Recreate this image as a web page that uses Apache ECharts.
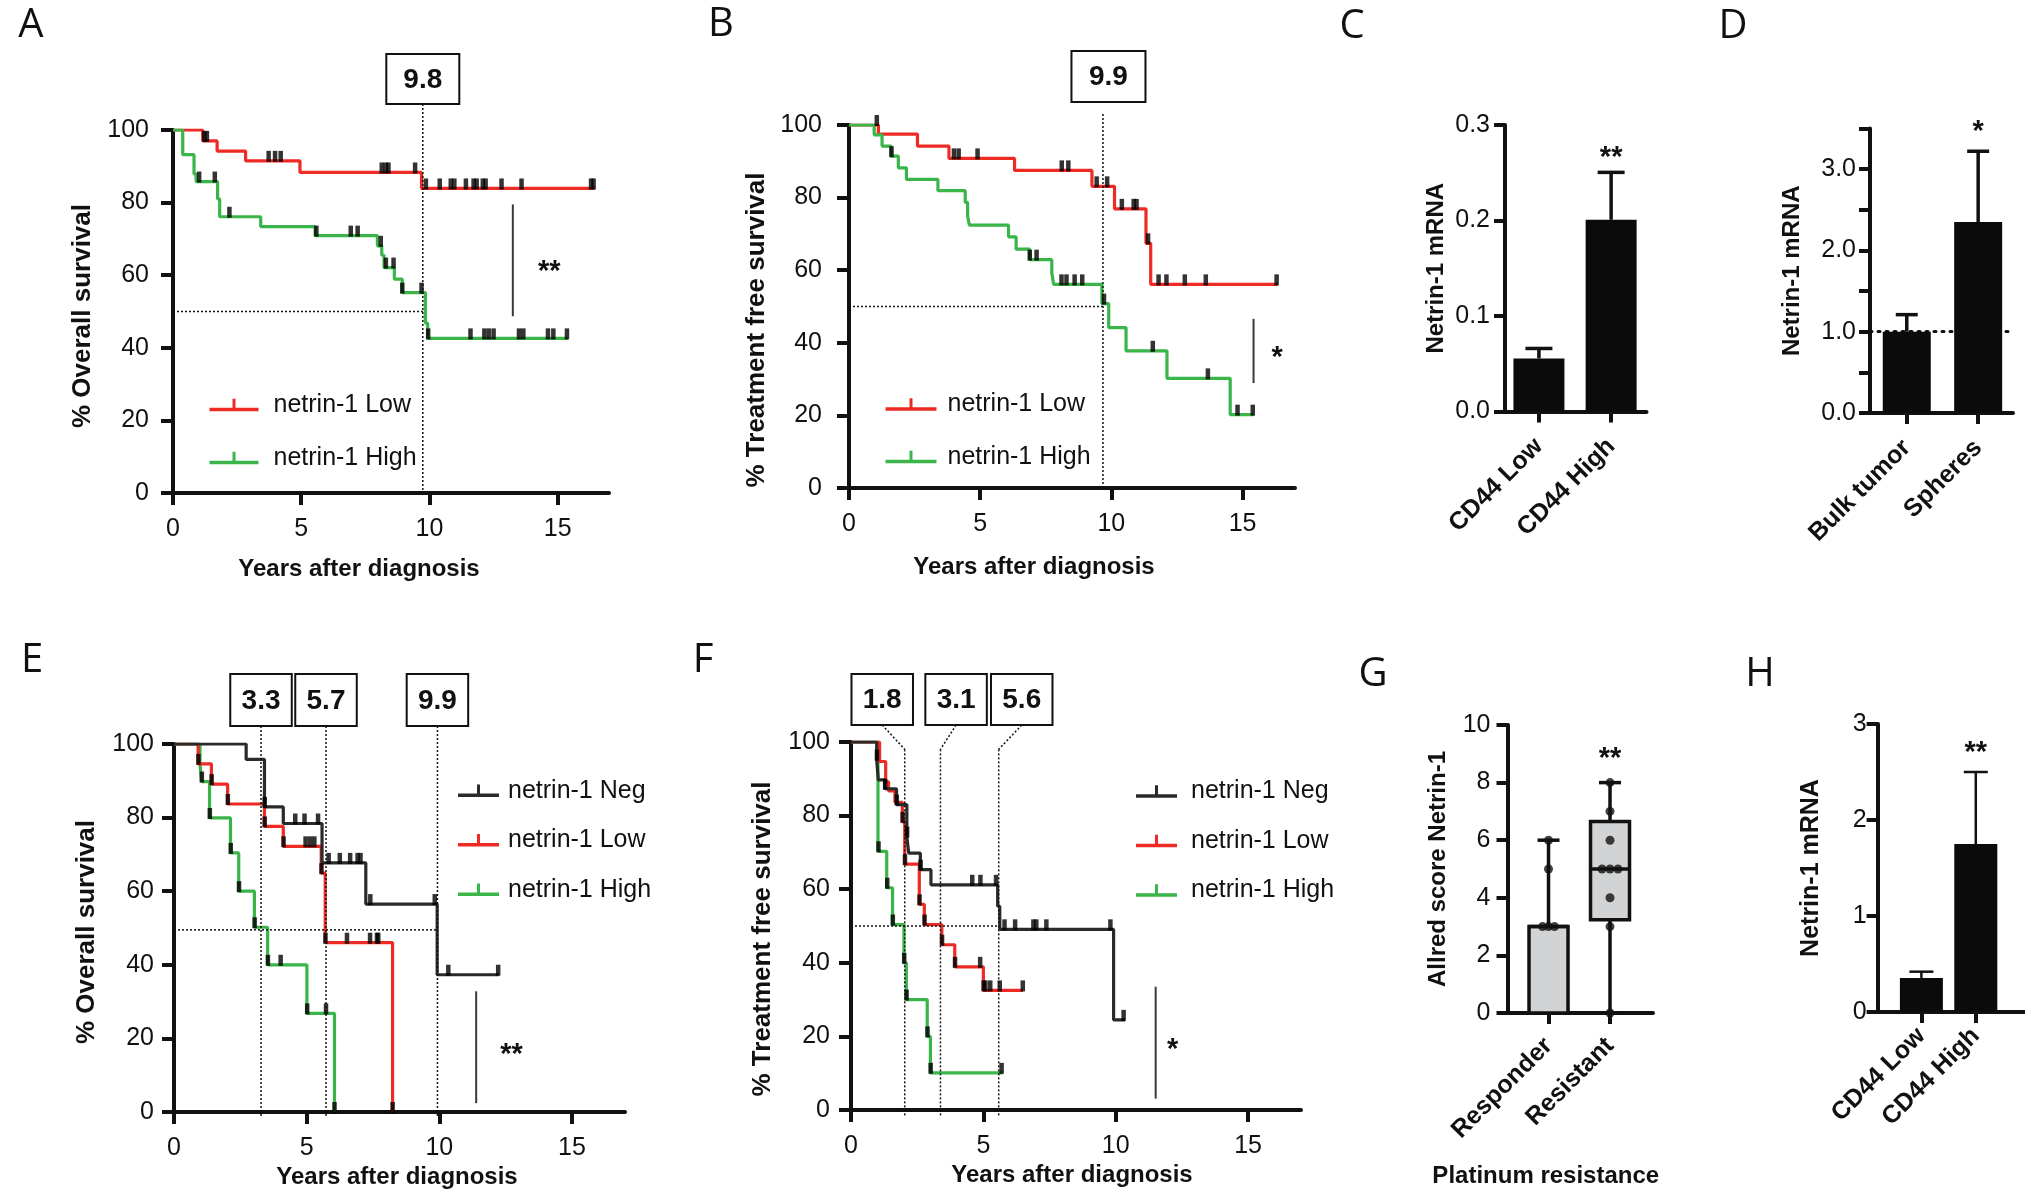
<!DOCTYPE html>
<html>
<head>
<meta charset="utf-8">
<title>Netrin-1 panels</title>
<script src="https://cdn.jsdelivr.net/npm/echarts@6.0.0/dist/echarts.min.js"></script>
<style>
html, body { margin: 0; padding: 0; background: #ffffff; }
#fig { width: 2025px; height: 1196px; }
</style>
</head>
<body>
<div id="fig"></div>
<script>
// ---------- values ----------
var yearTicks = [0, 5, 10, 15];

// A: overall survival  [years, % surviving]
var aLow = [[0,100],[1.16,97.0],[1.72,94.2],[2.83,91.5],[4.95,88.3],[9.69,83.9],[16.44,83.9]];
var aLowCens = [1.22,1.32,3.73,3.98,4.2,8.14,8.3,8.4,9.44,9.86,10.4,10.83,10.97,11.42,11.72,11.84,12.08,12.19,12.81,13.59,16.3,16.4];
var aHigh = [[0,100],[0.38,93.2],[0.82,87.9],[0.9,85.8],[1.74,81.0],[1.82,76.1],[3.42,73.4],[5.54,70.9],[7.97,68.1],[8.14,65.5],[8.23,62.1],[8.63,58.9],[8.94,55.2],[9.84,46.8],[9.93,42.6],[15.4,42.6]];
var aHighCens = [1.02,1.63,2.2,5.59,6.93,7.2,8.1,8.3,8.6,8.94,9.69,9.95,11.6,12.14,12.31,12.5,13.49,13.66,14.62,14.83,15.36];

// B: treatment free survival
var bLow = [[0,100],[1.12,97.5],[2.61,94.2],[3.81,90.8],[6.31,87.5],[9.26,83.1],[10.12,76.9],[11.32,67.4],[11.5,56.1],[16.34,56.1]];
var bLowCens = [1.06,4.0,4.18,4.9,8.11,8.36,9.44,9.84,10.4,10.85,10.96,11.4,11.8,12.1,12.8,13.6,16.3];
var bHigh = [[0,100],[0.96,97.3],[1.26,94.2],[1.6,91.4],[1.88,88.2],[2.19,85.0],[3.39,81.9],[4.43,78.7],[4.52,75.0],[4.59,72.4],[6.08,69.2],[6.37,65.8],[6.89,62.9],[7.73,59.2],[7.8,56.1],[9.64,50.8],[9.9,44.2],[10.56,37.8],[12.12,30.2],[14.53,20.2],[15.42,20.2]];
var bHighCens = [1.62,6.89,7.15,8.1,8.29,8.6,8.89,9.72,11.58,13.68,14.81,15.39];

// E: overall survival, three groups
var eNeg = [[0,100],[2.72,95.8],[3.41,82.9],[4.12,78.4],[5.58,67.7],[7.23,56.5],[9.92,37.3],[12.24,37.3]];
var eNegCens = [3.42,4.57,4.92,5.43,5.83,6.25,6.64,6.92,7.03,7.4,9.83,10.34,12.22];
var eLow = [[0,100],[0.91,94.6],[1.41,89.1],[2.02,83.7],[3.41,77.6],[4.12,72.2],[5.55,64.9],[5.7,46.0],[8.24,0]];
var eLowCens = [0.92,1.42,2.03,3.42,4.13,4.96,5.13,5.29,5.56,5.71,6.52,7.39,7.65,7.7,8.24];
var eHigh = [[0,100],[0.98,94.7],[1.04,89.8],[1.34,79.9],[2.13,70.4],[2.44,60.0],[3.03,50.2],[3.53,40.0],[5.01,26.8],[6.05,0]];
var eHighCens = [1.05,1.35,2.14,2.45,3.04,3.54,4.02,5.02,5.73,6.05];

// F: treatment free survival, three groups
var fNeg = [[0,100],[0.97,95.2],[1.03,89.7],[1.28,87.3],[1.72,83.0],[2.11,74.3],[2.18,69.8],[2.62,65.3],[3.02,61.2],[5.54,55.4],[5.62,49.1],[9.92,24.5],[10.35,24.5]];
var fNegCens = [0.98,1.29,1.73,2.12,2.63,4.58,4.89,5.48,5.8,6.2,6.89,7.0,7.38,9.8,10.3];
var fLow = [[0,100],[1.08,94.7],[1.31,89.2],[1.42,86.7],[1.66,83.6],[1.94,78.3],[2.03,66.8],[2.58,55.9],[2.77,50.4],[3.43,44.9],[3.92,38.9],[5.0,32.5],[6.5,32.5]];
var fLowCens = [1.95,2.04,2.59,2.78,3.44,3.93,4.88,5.01,5.08,5.26,5.62,6.49];
var fHigh = [[0,100],[1.02,70.3],[1.35,60.4],[1.57,50.4],[2.0,40.0],[2.09,30.0],[2.88,20.0],[3.0,10.1],[5.72,10.1]];
var fHighCens = [1.04,1.37,1.58,2.01,2.1,2.89,3.01,5.69];

// median survival call-outs (x = dotted line, boxX = box centre when it differs)
var aMedians = [{ label: '9.8', x: 9.74 }];
var bMedians = [{ label: '9.9', x: 9.68, boxX: 9.89 }];
var eMedians = [{ label: '3.3', x: 3.28 }, { label: '5.7', x: 5.73 }, { label: '9.9', x: 9.93 }];
var fMedians = [{ label: '1.8', x: 2.03, boxX: 1.18 }, { label: '3.1', x: 3.38, boxX: 3.97 }, { label: '5.6', x: 5.58, boxX: 6.45 }];

// significance bars [x, yFrom, yTo] and stars [x, y, text]
var aSig = [13.25, 79.5, 48.7], aStar = [14.67, 62.6, '**'];
var bSig = [15.42, 46.6, 28.9], bStar = [16.32, 37.6, '*'];
var eSig = [11.39, 32.8, 2.4],  eStar = [12.72, 17.1, '**'];
var fSig = [11.51, 33.5, 3.1],  fStar = [12.15, 18.0, '*'];

// C, D, H: mean and mean+error, G: box stats + points
var cCats = ['CD44 Low', 'CD44 High'];
var cMean = [0.0556, 0.2008];
var cTop = [0.066, 0.2504];
var cStar = 0.2716;

var dCats = ['Bulk tumor', 'Spheres'];
var dMean = [1.0, 2.35];
var dTop = [1.21, 3.22];
var dRef = 1.0;
var dStar = 3.53;

var gCats = ['Responder', 'Resistant'];
var gBox = [[0, 0, 3, 3, 6], [0, 3.24, 5, 6.65, 8]];
var gRespPts = [6, 5, 3, 3, 3];
var gResPts = [8, 7, 6, 5, 5, 5, 4, 3, 0];
var gStar = 9.02;

var hCats = ['CD44 Low', 'CD44 High'];
var hMean = [0.355, 1.75];
var hTop = [0.42, 2.50];
var hStar = 2.76;

// ---------- style ----------
var ink = '#111111';
var red = '#ed2a24';
var green = '#3ab54a';
var negCol = '#2a2a2a';
var font = 'Liberation Sans, Arial, sans-serif';

var chart = echarts.init(document.getElementById('fig'), null, { renderer: 'canvas' });

function survivalAt(steps, t) {
    var s = steps[0][1];
    for (var i = 0; i < steps.length; i++) {
        if (steps[i][0] <= t) s = steps[i][1];
    }
    return s;
}

function kmLine(g, name, steps, color) {
    return {
        type: 'line', name: name, xAxisIndex: g, yAxisIndex: g,
        data: steps, step: 'end', symbol: 'none', showSymbol: false,
        lineStyle: { color: color, width: 3.2 }, itemStyle: { color: color },
        silent: true, z: 2
    };
}

function kmCensor(g, steps, times) {
    return {
        type: 'scatter', name: 'censored', xAxisIndex: g, yAxisIndex: g,
        data: times.map(function (t) { return [t, survivalAt(steps, t)]; }),
        symbol: 'rect', symbolSize: [4.5, 11], symbolOffset: [0, -4.5],
        itemStyle: { color: '#000000' }, silent: true, z: 4
    };
}

function lineAxis() { return { show: true, onZero: false, lineStyle: { color: ink, width: 4 } }; }
function tickAxis(len, custom) {
    var t = { show: true, inside: false, length: len, lineStyle: { color: ink, width: 4 } };
    if (custom) t.customValues = custom;
    return t;
}

function kmXAxis(g, nameGap, namePad) {
    return {
        gridIndex: g, type: 'value', min: 0, max: 17,
        name: 'Years after diagnosis', nameLocation: 'middle', nameGap: nameGap, nameMoveOverlap: false,
        nameTextStyle: { fontFamily: font, fontSize: 24, fontWeight: 'bold', color: ink, padding: [0, namePad, 0, 0] },
        axisLine: lineAxis(), axisTick: tickAxis(12, yearTicks),
        axisLabel: { fontFamily: font, fontSize: 25, color: ink, margin: 24, customValues: yearTicks },
        splitLine: { show: false }
    };
}

function kmYAxis(g, name, nameGap, namePad, labelMargin) {
    return {
        gridIndex: g, type: 'value', min: 0, max: 100, interval: 20,
        name: name, nameLocation: 'middle', nameGap: nameGap, nameMoveOverlap: false,
        nameTextStyle: { fontFamily: font, fontSize: 26, fontWeight: 'bold', color: ink, padding: [0, namePad, 0, 0] },
        axisLine: lineAxis(), axisTick: tickAxis(12),
        axisLabel: { fontFamily: font, fontSize: 25, color: ink, margin: labelMargin },
        splitLine: { show: false }
    };
}

function catXAxis(g, cats, min, max, margin, name) {
    var ax = {
        gridIndex: g, type: 'value', min: min, max: max,
        axisLine: lineAxis(), axisTick: tickAxis(11, [1, 2]),
        axisLabel: {
            customValues: [1, 2], rotate: 45, margin: margin,
            fontFamily: font, fontSize: 25, fontWeight: 'bold', color: ink,
            formatter: function (v) { return cats[Math.round(v) - 1] || ''; }
        },
        splitLine: { show: false }
    };
    if (name) {
        ax.name = name.text; ax.nameLocation = 'middle'; ax.nameGap = name.gap; ax.nameMoveOverlap = false;
        ax.nameTextStyle = { fontFamily: font, fontSize: 24, fontWeight: 'bold', color: ink, padding: [0, name.pad, 0, 0] };
    }
    return ax;
}

function valYAxis(g, max, interval, fmt, name, nameGap, nameSize, labelMargin) {
    return {
        gridIndex: g, type: 'value', min: 0, max: max, interval: interval,
        name: name, nameLocation: 'middle', nameGap: nameGap, nameMoveOverlap: false,
        nameTextStyle: { fontFamily: font, fontSize: nameSize, fontWeight: 'bold', color: ink },
        axisLine: lineAxis(), axisTick: tickAxis(11),
        axisLabel: { fontFamily: font, fontSize: 25, color: ink, margin: labelMargin, formatter: fmt },
        splitLine: { show: false }
    };
}

function barSeries(g, means, width) {
    return {
        type: 'bar', xAxisIndex: g, yAxisIndex: g, barWidth: width,
        data: means.map(function (m, i) { return [i + 1, m]; }),
        itemStyle: { color: '#0b0b0b' }, silent: true, z: 2
    };
}

function errorSeries(g, means, tops, capW, lw) {
    return {
        type: 'custom', xAxisIndex: g, yAxisIndex: g, silent: true, z: 1,
        encode: { x: 0, y: [1, 2] },
        data: means.map(function (m, i) { return [i + 1, m, tops[i]]; }),
        renderItem: function (params, api) {
            var base = api.coord([api.value(0), api.value(1)]);
            var top = api.coord([api.value(0), api.value(2)]);
            var st = { stroke: ink, lineWidth: lw };
            return { type: 'group', children: [
                { type: 'line', shape: { x1: base[0], y1: base[1], x2: top[0], y2: top[1] }, style: st },
                { type: 'line', shape: { x1: top[0] - capW / 2, y1: top[1], x2: top[0] + capW / 2, y2: top[1] }, style: st }
            ] };
        }
    };
}

function jitterPoints(xIndex, values, spacing) {
    var counts = {}, seen = {};
    values.forEach(function (v) { counts[v] = (counts[v] || 0) + 1; });
    return values.map(function (v) {
        var k = seen[v] || 0; seen[v] = k + 1;
        return { value: [xIndex, v], symbolOffset: [(k - (counts[v] - 1) / 2) * spacing, 0] };
    });
}

// legend row: line with a censor tick; text padded so its middle sits on the line
function kmLegend(names, left, top, iconW, gap, textPad) {
    var h = iconW / 2;
    return {
        data: names, orient: 'vertical', left: left, top: top, padding: 0,
        itemWidth: iconW, itemHeight: 12.5, itemGap: gap, selectedMode: false,
        icon: 'path://M0,9L' + iconW + ',9L' + iconW + ',12.5L0,12.5Z M' + (h - 1.5) + ',0L' + (h + 1.5) + ',0L' + (h + 1.5) + ',12.5L' + (h - 1.5) + ',12.5Z',
        itemStyle: { borderWidth: 0 },
        textStyle: { fontFamily: font, fontSize: 25, color: ink, lineHeight: 28, padding: [9, 0, 0, textPad] }
    };
}

var grids = [
    { left: 173, top: 130, width: 436, height: 363 },      // A
    { left: 849, top: 125, width: 446, height: 363 },      // B
    { left: 1505, top: 125, width: 141.5, height: 286.5 }, // C
    { left: 1870, top: 128.5, width: 143, height: 284.5 }, // D
    { left: 174, top: 744, width: 451, height: 368 },      // E
    { left: 851, top: 742, width: 450, height: 368 },      // F
    { left: 1507.5, top: 725, width: 145.5, height: 288 }, // G
    { left: 1877.6, top: 724, width: 146.4, height: 288 }  // H
].map(function (g) { g.outerBoundsMode = 'none'; return g; });

var oneDecimal = function (v) { return v.toFixed(1); };
var wholeOneDecimal = function (v) { return Math.abs(v % 1) < 1e-9 ? v.toFixed(1) : ''; };

var option = {
    animation: false,
    backgroundColor: '#ffffff',
    grid: grids,
    xAxis: [
        kmXAxis(0, 64.5, 64),
        kmXAxis(1, 67.5, 76),
        catXAxis(2, cCats, 0.530, 2.490, 31),
        catXAxis(3, dCats, 0.485, 2.488, 31),
        kmXAxis(4, 53.6, 5),
        kmXAxis(5, 53.8, 8),
        catXAxis(6, gCats, 0.333, 2.699, 29, { text: 'Platinum resistance', gap: 151, pad: 69 }),
        catXAxis(7, hCats, 0.195, 2.886, 20)
    ],
    yAxis: [
        kmYAxis(0, '% Overall survival', 77.5, 9, 24),
        kmYAxis(1, '% Treatment free survival', 79, 47, 27),
        valYAxis(2, 0.3, 0.1, oneDecimal, 'Netrin-1 mRNA', 57, 24, 15),
        valYAxis(3, 3.5, 0.5, wholeOneDecimal, 'Netrin-1 mRNA', 66, 24, 14),
        kmYAxis(4, '% Overall survival', 74, 8, 20),
        kmYAxis(5, '% Treatment free survival', 75, 26, 21),
        valYAxis(6, 10, 2, null, 'Allred score Netrin-1', 57, 24, 17),
        valYAxis(7, 3, 1, null, 'Netrin-1 mRNA', 54, 25, 11)
    ],
    legend: [
        kmLegend(['netrin-1 Low', 'netrin-1 High'], 209.5, 386.6, 49, 15.8, 10),
        kmLegend(['netrin-1 Low', 'netrin-1 High'], 885.5, 385.9, 51, 15.7, 6),
        kmLegend(['netrin-1 Neg', 'netrin-1 Low', 'netrin-1 High'], 458, 772.3, 41, 12.5, 4),
        kmLegend(['netrin-1 Neg', 'netrin-1 Low', 'netrin-1 High'], 1136, 773, 41, 12.5, 9)
    ],
    series: [
        // A
        kmLine(0, 'netrin-1 Low', aLow, red), kmLine(0, 'netrin-1 High', aHigh, green),
        kmCensor(0, aLow, aLowCens), kmCensor(0, aHigh, aHighCens),
        // B
        kmLine(1, 'netrin-1 Low', bLow, red), kmLine(1, 'netrin-1 High', bHigh, green),
        kmCensor(1, bLow, bLowCens), kmCensor(1, bHigh, bHighCens),
        // C
        errorSeries(2, cMean, cTop, 27, 3.5), barSeries(2, cMean, 51),
        // D
        errorSeries(3, dMean, dTop, 22, 3.5),
        Object.assign(barSeries(3, dMean, 48), {
            markLine: {
                silent: true, symbol: 'none', label: { show: false }, z: 1,
                lineStyle: { color: ink, width: 3, type: [2, 6], cap: 'round' },
                data: [{ yAxis: dRef }]
            }
        }),
        // E
        kmLine(4, 'netrin-1 High', eHigh, green), kmLine(4, 'netrin-1 Low', eLow, red), kmLine(4, 'netrin-1 Neg', eNeg, negCol),
        kmCensor(4, eHigh, eHighCens), kmCensor(4, eLow, eLowCens), kmCensor(4, eNeg, eNegCens),
        // F
        kmLine(5, 'netrin-1 High', fHigh, green), kmLine(5, 'netrin-1 Low', fLow, red), kmLine(5, 'netrin-1 Neg', fNeg, negCol),
        kmCensor(5, fHigh, fHighCens), kmCensor(5, fLow, fLowCens), kmCensor(5, fNeg, fNegCens),
        // G
        {
            type: 'custom', xAxisIndex: 6, yAxisIndex: 6, silent: true, z: 2,
            encode: { x: 0, y: [1, 2, 3, 4, 5] },
            data: gBox.map(function (b, i) { return [i + 1].concat(b); }),
            renderItem: function (params, api) {
                var x = api.value(0);
                var p = function (k) { return api.coord([x, api.value(k)]); };
                var lo = p(1), q1 = p(2), md = p(3), q3 = p(4), hi = p(5);
                var cx = lo[0], hw = 19.5, cw = 11;
                var st = { stroke: ink, lineWidth: 3.5, fill: null };
                return { type: 'group', children: [
                    { type: 'line', shape: { x1: cx, y1: q3[1], x2: cx, y2: hi[1] }, style: st },
                    { type: 'line', shape: { x1: cx, y1: q1[1], x2: cx, y2: lo[1] }, style: st },
                    { type: 'line', shape: { x1: cx - cw, y1: hi[1], x2: cx + cw, y2: hi[1] }, style: st },
                    { type: 'line', shape: { x1: cx - cw, y1: lo[1], x2: cx + cw, y2: lo[1] }, style: st },
                    { type: 'rect', shape: { x: cx - hw, y: q3[1], width: 2 * hw, height: q1[1] - q3[1] },
                      style: { fill: '#d1d3d4', stroke: ink, lineWidth: 3.5 } },
                    { type: 'line', shape: { x1: cx - hw, y1: md[1], x2: cx + hw, y2: md[1] }, style: st }
                ] };
            }
        },
        {
            type: 'scatter', xAxisIndex: 6, yAxisIndex: 6, silent: true, z: 4,
            symbol: 'circle', symbolSize: 9, itemStyle: { color: ink },
            data: jitterPoints(1, gRespPts, 6).concat(jitterPoints(2, gResPts, 8))
        },
        // H
        errorSeries(7, hMean, hTop, 24, 2.5), barSeries(7, hMean, 43)
    ]
};

chart.setOption(option);

// ---------- call-outs drawn on top, placed through the axes ----------
var gfx = [];
function px(g, x, y) { return chart.convertToPixel({ gridIndex: g }, [x, y]); }
function textEl(x, y, text, size, weight, family) {
    return {
        type: 'text', x: x, y: y, silent: true, z: 100,
        style: {
            text: text, fill: ink, font: (weight || 'normal') + ' ' + size + 'px ' + (family || font),
            align: 'center', verticalAlign: 'middle', textAlign: 'center', textVerticalAlign: 'middle'
        }
    };
}
function lineEl(x1, y1, x2, y2, width, dash, color) {
    return {
        type: 'line', silent: true, z: 90,
        shape: { x1: x1, y1: y1, x2: x2, y2: y2 },
        style: { stroke: color || ink, lineWidth: width, lineDash: dash || null }
    };
}

var panelLetters = [['A', 31, 26], ['B', 721, 25], ['C', 1352, 27], ['D', 1733, 27],
                    ['E', 32, 661], ['F', 703, 661], ['G', 1373, 675], ['H', 1760, 675]];
panelLetters.forEach(function (l) {
    gfx.push(textEl(l[1], l[2], l[0], 40, 'normal', 'Open Sans, Noto Sans, sans-serif'));
});

function medianCallouts(g, meds, o) {
    var top = px(g, 0, 100)[1];
    var boxBottom = top - o.boxGap;
    var dash = [2, 2];
    meds.forEach(function (m) {
        var bx = px(g, m.boxX != null ? m.boxX : m.x, 0)[0];
        gfx.push({
            type: 'rect', silent: true, z: 95,
            shape: { x: bx - o.boxW / 2, y: boxBottom - o.boxH, width: o.boxW, height: o.boxH },
            style: { fill: '#ffffff', stroke: ink, lineWidth: 2 }
        });
        gfx.push(textEl(bx, boxBottom - o.boxH / 2 + 1, m.label, 28, 'bold'));
        var lx = px(g, m.x, 0)[0];
        var yStart = o.lineTop == null ? boxBottom : px(g, 0, o.lineTop)[1];
        gfx.push(lineEl(lx, yStart, lx, px(g, 0, o.lineBottom)[1], 1.5, dash));
        if (o.connect) gfx.push(lineEl(bx, boxBottom, lx, yStart, 1.5, dash));
    });
    var last = meds[meds.length - 1];
    var h0 = px(g, 0, o.halfY), h1 = px(g, last.x, o.halfY);
    gfx.push(lineEl(h0[0], h0[1], h1[0], h1[1], 1.5, dash));
}

medianCallouts(0, aMedians, { boxW: 73, boxH: 50, boxGap: 26, lineTop: null, lineBottom: 0, halfY: 50 });
medianCallouts(1, bMedians, { boxW: 74, boxH: 51, boxGap: 23, lineTop: 103, lineBottom: 0, halfY: 50 });
medianCallouts(4, eMedians, { boxW: 61.5, boxH: 52, boxGap: 18, lineTop: null, lineBottom: -1.5, halfY: 49.5 });
medianCallouts(5, fMedians, { boxW: 61.5, boxH: 51, boxGap: 17, lineTop: 98, lineBottom: -2, halfY: 50, connect: true });

function sigBar(g, sig, star) {
    var p1 = px(g, sig[0], sig[1]), p2 = px(g, sig[0], sig[2]);
    gfx.push(lineEl(p1[0], p1[1], p2[0], p2[1], 2, null, '#3a3a3a'));
    var s = px(g, star[0], star[1]);
    gfx.push(textEl(s[0], s[1] + 6, star[2], 29, 'bold'));
}
sigBar(0, aSig, aStar);
sigBar(1, bSig, bStar);
sigBar(4, eSig, eStar);
sigBar(5, fSig, fStar);

[[2, cStar, '**'], [3, dStar, '*'], [6, gStar, '**'], [7, hStar, '**']].forEach(function (s) {
    var p = px(s[0], 2, s[1]);
    gfx.push(textEl(p[0], p[1] + 6, s[2], 29, 'bold'));
});

chart.setOption({ graphic: { elements: gfx } });
</script>
</body>
</html>
